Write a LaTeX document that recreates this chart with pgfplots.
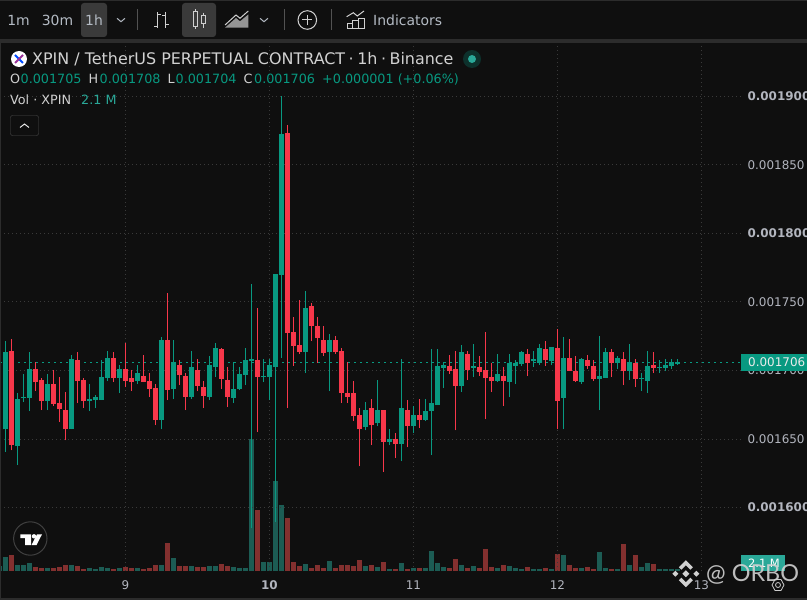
\documentclass[border=0pt]{standalone}
\usepackage{pgfplots}
\usepackage{pgfplotstable}
\usepackage{fontspec}
\usetikzlibrary{patterns}
\setmainfont{DejaVu Sans}
\newfontfamily\wm{Lato}
\pgfplotsset{compat=1.18}
\definecolor{bg}{HTML}{0F0F0F}
\definecolor{gup}{HTML}{089981}
\definecolor{rdn}{HTML}{F7374A}
\definecolor{vup}{HTML}{1C5C54}
\definecolor{vdn}{HTML}{83302F}
\definecolor{gridc}{HTML}{3A3A3A}
\definecolor{uitext}{HTML}{B4BBC4}
\definecolor{sep}{HTML}{2C2C2C}
\definecolor{hl}{HTML}{3A3A3A}
\definecolor{lab}{HTML}{2AA898}
\definecolor{tick}{HTML}{B2B5BE}
\definecolor{icon}{HTML}{D0D0D0}
% price in millionths of a unit: i open high low close volume(M)
\pgfplotstableread{
i o h l c v
0 1657.1 1721.4 1640.6 1713.3 14
2 1644.7 1683.4 1630.9 1679.0 6
3 1679.8 1697.3 1676.9 1680.5 6
4 1679.8 1713.3 1670.3 1700.9 8
7 1677.6 1697.3 1671.0 1690.0 3
11 1657.1 1711.2 1657.1 1708.2 6
14 1677.6 1690.0 1670.3 1679.0 3
15 1678.3 1682.0 1672.5 1680.5 2
16 1678.3 1707.5 1678.3 1695.1 4
17 1694.4 1714.1 1692.2 1709.0 3
19 1694.4 1703.9 1683.4 1700.9 3
22 1692.2 1703.9 1690.0 1698.0 3
26 1663.7 1724.3 1657.1 1722.1 6
28 1686.3 1722.1 1679.0 1706.0 13
31 1680.5 1714.1 1679.0 1702.4 5
34 1680.5 1710.4 1678.3 1703.9 5
35 1702.4 1719.9 1695.1 1716.3 5
38 1679.8 1706.0 1676.1 1686.3 4
39 1686.3 1702.4 1685.6 1697.3 3
40 1696.6 1716.3 1689.3 1707.5 3
41 1706.8 1763.0 1584.9 1708.2 132
43 1695.1 1708.2 1691.4 1695.8 9
44 1695.1 1708.2 1678.3 1703.9 9
45 1702.4 1770.3 1589.5 1770.3 90
46 1769.6 1900.2 1709.0 1872.5 66
50 1713.3 1757.9 1698.0 1745.5 7
54 1713.3 1726.5 1684.9 1722.1 10
60 1658.6 1676.9 1656.4 1671.0 5
62 1661.5 1692.9 1659.3 1671.0 4
64 1647.7 1657.1 1645.5 1649.8 2
66 1646.2 1708.2 1633.8 1672.5 8
68 1659.3 1673.9 1654.2 1667.4 3
70 1663.7 1679.0 1663.0 1670.3 3
71 1670.3 1715.5 1638.2 1676.1 20
72 1674.7 1715.5 1674.7 1703.1 8
73 1701.7 1706.0 1687.1 1703.9 4
76 1688.5 1718.5 1684.2 1713.3 6
78 1701.7 1719.2 1695.1 1703.1 5
82 1692.2 1711.9 1691.4 1697.3 3
84 1691.4 1711.9 1680.5 1705.3 5
85 1703.1 1707.5 1690.0 1705.3 3
86 1704.6 1714.1 1703.1 1713.3 2
88 1706.8 1714.1 1702.4 1708.2 2
89 1705.3 1719.2 1703.9 1716.3 2
91 1706.8 1717.0 1703.9 1717.0 2
93 1679.8 1724.3 1657.1 1709.0 16
96 1691.4 1709.0 1690.0 1708.2 3
99 1693.6 1725.0 1671.0 1695.8 19
100 1694.4 1716.3 1694.4 1713.3 3
102 1705.3 1710.4 1700.9 1709.0 2
104 1699.5 1719.2 1692.9 1706.0 6
106 1693.6 1698.0 1684.9 1694.4 4
107 1692.2 1714.1 1683.4 1703.1 8
109 1701.7 1707.5 1698.0 1702.4 2
110 1701.7 1708.2 1699.5 1703.9 2
111 1703.1 1708.2 1700.9 1705.8 2
112 1705.0 1708.0 1704.0 1706.0 2.1
}\upT
\pgfplotstableread{
i o h l c v
1 1714.1 1722.8 1641.8 1645.5 16
5 1700.9 1706.0 1684.9 1691.4 4
6 1692.9 1694.4 1671.0 1677.6 3
8 1690.0 1700.2 1673.9 1675.4 3
9 1676.1 1695.1 1662.3 1671.7 4
10 1671.0 1684.2 1649.1 1657.1 6
12 1707.5 1713.3 1676.1 1692.2 5
13 1692.9 1694.4 1672.5 1677.6 2
18 1709.0 1713.3 1691.4 1694.4 2
20 1700.9 1719.9 1687.8 1692.2 4
21 1694.4 1700.2 1684.9 1691.4 3
23 1695.8 1711.2 1691.4 1691.4 2
24 1692.2 1698.0 1680.5 1686.3 3
25 1687.1 1690.0 1660.1 1663.7 6
27 1722.1 1756.4 1678.3 1685.6 28
29 1703.9 1707.5 1689.3 1696.6 5
30 1695.8 1698.0 1671.0 1680.5 5
32 1700.2 1708.2 1684.9 1688.5 4
33 1687.8 1692.2 1672.5 1681.2 4
36 1715.5 1716.3 1686.3 1693.6 7
37 1692.9 1702.4 1673.2 1680.5 5
42 1707.5 1745.5 1655.0 1695.1 61
47 1873.2 1879.0 1672.5 1727.2 53
48 1727.9 1738.9 1703.1 1717.7 9
49 1718.5 1751.3 1711.9 1713.3 5
51 1746.9 1749.1 1721.4 1732.3 3
52 1732.3 1738.9 1705.3 1723.6 6
53 1722.1 1732.3 1710.4 1712.6 3
55 1722.1 1725.0 1711.9 1713.3 3
56 1714.1 1716.3 1676.1 1683.4 6
57 1683.4 1706.0 1676.1 1680.5 6
58 1683.4 1692.2 1663.0 1666.6 5
59 1667.4 1672.5 1630.1 1657.1 11
61 1672.5 1679.0 1645.5 1660.1 6
63 1671.0 1671.0 1625.8 1647.7 9
65 1649.8 1654.2 1636.0 1646.2 2
67 1671.0 1678.3 1644.0 1659.3 2
69 1667.4 1679.0 1657.9 1663.7 3
74 1703.1 1711.2 1697.3 1699.5 3
75 1700.9 1714.1 1656.4 1688.5 12
77 1711.9 1714.1 1692.9 1700.2 3
79 1702.4 1710.4 1695.8 1698.7 3
80 1700.2 1727.9 1664.4 1694.4 22
81 1695.1 1705.3 1684.1 1692.2 4
83 1695.8 1702.4 1673.9 1692.2 6
87 1711.9 1715.5 1695.8 1705.3 4
90 1715.5 1721.4 1703.1 1707.5 3
92 1716.3 1730.1 1657.1 1677.6 17
94 1709.0 1722.8 1699.5 1699.5 6
95 1699.5 1710.4 1691.4 1692.2 3
97 1707.5 1711.2 1700.9 1703.1 4
98 1703.1 1707.5 1692.2 1693.6 2
101 1713.3 1715.5 1695.1 1705.3 2
103 1708.2 1713.3 1689.3 1699.5 27
105 1705.3 1708.2 1687.8 1693.6 16
108 1703.9 1713.3 1698.0 1701.7 7
}\dnT
\begin{document}
\begin{tikzpicture}[x=1bp,y=-1bp]
\path[use as bounding box,clip] (0,0) rectangle (807,600);
\fill[bg] (0,0) rectangle (807,600);
% volume axis
\begin{axis}[at={(0bp,-571bp)},anchor=south west,width=741bp,height=529bp,scale only axis,
 xmin=-0.883,xmax=122.6,ymin=0,ymax=529,hide axis,clip=true]
\addplot[ycomb,no marks,line width=5bp,vup] table[x=i,y=v]{\upT};
\addplot[ycomb,no marks,line width=5bp,vdn] table[x=i,y=v]{\dnT};
\addplot[ycomb,no marks,line width=5bp,vup] coordinates {(-1,5)};
\end{axis}
% price axis
\begin{axis}[at={(0bp,-571bp)},anchor=south west,width=741bp,height=529bp,scale only axis,
 xmin=-0.883,xmax=122.6,ymin=1553.8,ymax=1939.4,
 axis line style={draw=none},
 major tick length=0pt,
 axis on top=false,
 grid=major,
 grid style={gridc,line width=1bp,dash pattern=on 1bp off 3bp},
 xtick={20,44,68,92,116},
 xticklabels={9,\textbf{10},11,12,13},
 x tick label style={font=\fontsize{12}{14}\selectfont,text=tick,anchor=center,yshift=-14bp},
 ytick={1600,1650,1700,1750,1800,1850,1900},
 yticklabels={\textbf{0.001600},0.001650,0.001700,0.001750,\textbf{0.001800},0.001850,\textbf{0.001900}},
 yticklabel pos=right,
 y tick label style={font=\fontsize{12}{14}\selectfont,text=tick,anchor=west,xshift=3bp},
 clip=true]
\addplot[gup,line width=1.2bp,dash pattern=on 1.5bp off 4.5bp,no marks] coordinates {(-0.883,1706) (122.6,1706)};
\pgfplotsset{
 wick/.style={no marks,draw=none,forget plot,error bars/.cd,y dir=plus,y explicit,error mark=none,error bar style={draw=#1,line width=1bp}},
 body/.style={no marks,draw=none,forget plot,error bars/.cd,y dir=plus,y explicit,error mark=none,error bar style={draw=#1,line width=5bp}}}
\addplot[wick=gup] table[x=i,y=l,y error plus expr=\thisrow{h}-\thisrow{l}]{\upT};
\addplot[wick=rdn] table[x=i,y=l,y error plus expr=\thisrow{h}-\thisrow{l}]{\dnT};
\addplot[body=gup] table[x=i,y=o,y error plus expr=\thisrow{c}-\thisrow{o}]{\upT};
\addplot[body=rdn] table[x=i,y=c,y error plus expr=\thisrow{o}-\thisrow{c}]{\dnT};
\end{axis}
% last value labels
\fill[gup] (741,354) rectangle (807,371);
\node[anchor=west,inner sep=0,text=white!92!black,font=\fontsize{12}{14}\selectfont] at (748,362.5) {0.001706};
\fill[lab] (741,555) rectangle (785,571);
\node[anchor=center,text=white,font=\fontsize{11.5}{14}\selectfont] at (764,563) {2.1 M};
% toolbar
\fill[bg] (0,0) rectangle (807,39);
\fill[sep] (0,39) rectangle (807,43);
\fill[sep] (0,0) rectangle (807,1);
\fill[sep] (0,43) rectangle (1,600);
\fill[sep] (0,598) rectangle (807,600);
\fill[hl,rounded corners=3bp] (81,3) rectangle (107,37);
\fill[hl,rounded corners=3bp] (182,3) rectangle (216,37);
\begin{scope}[every node/.style={text=uitext,font=\fontsize{14}{16}\selectfont}]
\node at (18.5,20) {1m};
\node at (57.5,20) {30m};
\node at (94,20) {1h};
\node[anchor=west,inner sep=0] at (373,20) {Indicators};
\end{scope}
\foreach \x in {137.5,284.3,331.7} \draw[white!32!black,line width=0.8bp] (\x,9.5) -- (\x,30.5);
\foreach \x in {121,264} \draw[uitext,line width=1bp] (\x-4,18.3) -- (\x,21.7) -- (\x+4,18.3);
% bar icon
\draw[icon,line width=1bp] (157.3,12.5)--(157.3,28.5) (154,26.7)--(157.3,26.7) (157.3,14.7)--(161,14.7) (165,12)--(165,28) (162,15.7)--(165,15.7) (165,24.3)--(169,24.3);
% candle icon
\draw[icon,line width=1bp] (193.3,11.7) rectangle (197.3,26.7) (195.3,9.3)--(195.3,11.7) (195.3,26.7)--(195.3,29.3) (201.7,16) rectangle (205.3,24) (203.5,12.7)--(203.5,16) (203.5,24)--(203.5,28.3);
% area icon
\fill[white!58!black] (225,27.7)--(236,18)--(240,21.3)--(248.3,14.5)--(248.3,27.7)--cycle;
\draw[icon,line width=1bp] (225,25)--(236,15)--(240,18.3)--(248.3,11);
% plus
\draw[icon,line width=1bp] (307.3,20) circle (9.3);
\draw[icon,line width=1bp] (302.3,20)--(312.3,20) (307.3,15)--(307.3,25);
% indicator icon
\draw[icon,line width=1bp] (347.3,24) rectangle (352,28.5) (352,21) rectangle (358,28.5) (358,18.5) rectangle (364,28.5);
\draw[icon,line width=1bp] (346.7,16.7)--(353.3,12.7)--(357.3,16)--(364,11);
% legend
\fill[white] (19,59) circle (8);
\draw[blue!70!cyan,line width=2bp] (15,55)--(23,63);
\draw[violet!80!white,line width=2bp] (23,55)--(15,63);
\node[anchor=west,inner sep=0,text=white!82!black,font=\fontsize{16}{18}\selectfont] at (32,59.5) {XPIN / TetherUS PERPETUAL CONTRACT\hspace{3.5bp}·\hspace{3.5bp}1h\hspace{3.5bp}·\hspace{3.5bp}Binance};
\fill[gup!25!bg] (472,59) circle (9);
\fill[lab] (472,59) circle (4);
\begin{scope}[every node/.style={anchor=base west,inner sep=0,font=\fontsize{12.8}{14}\selectfont}]
\node[text=white!82!black] at (10,84) {O};
\node[text=gup] at (20.5,84) {0.001705};
\node[text=white!82!black] at (88.5,84) {H};
\node[text=gup] at (99.5,84) {0.001708};
\node[text=white!82!black] at (167.5,84) {L};
\node[text=gup] at (175.5,84) {0.001704};
\node[text=white!82!black] at (243.5,84) {C};
\node[text=gup] at (254,84) {0.001706};
\node[text=gup] at (322,84) {+0.000001 (+0.06\%)};
\node[text=white!82!black] at (10,105) {Vol · XPIN};
\node[text=lab] at (81,105) {2.1 M};
\end{scope}
\draw[white!30!black,rounded corners=2bp] (10.5,115.5) rectangle (38.5,135.5);
\draw[white!90!black,line width=1bp] (20,127.5)--(24.5,124)--(29,127.5);
% TV logo
\draw[white!25!black,line width=1bp] (30.3,538.5) circle (16.7);
\fill[white] (20.3,534.3) rectangle (31,538) (25,534.3) rectangle (31,545);
\fill[white] (34,536.3) circle (2.2);
\fill[white] (42,534.3) -- (36.5,545) -- (31.5,545) -- (37,534.3) -- cycle;
% watermark
\begin{scope}[shift={(685.8,573.7)},fill=white!82!black]
\fill (0,-13.5)--(7,-6.5)--(4.5,-4)--(0,-8.5)--(-4.5,-4)--(-7,-6.5)--cycle;
\fill (0,13.5)--(7,6.5)--(4.5,4)--(0,8.5)--(-4.5,4)--(-7,6.5)--cycle;
\fill (-13.5,0)--(-10.5,-3)--(-7.5,0)--(-10.5,3)--cycle;
\fill (13.5,0)--(10.5,-3)--(7.5,0)--(10.5,3)--cycle;
\fill (0,-3.5)--(3.5,0)--(0,3.5)--(-3.5,0)--cycle;
\end{scope}
\node[anchor=west,inner sep=0,text=white!82!black,opacity=0.9,font=\wm\fontsize{23.5}{28}\selectfont] at (706,574) {@ ORBO};
\draw[white!80!black,line width=0.8bp] (772,585)--(775,579.5)--(781,579.5)--(784,585)--(781,590.5)--(775,590.5)--cycle (778,585) circle (2.5);
\end{tikzpicture}
\end{document}
